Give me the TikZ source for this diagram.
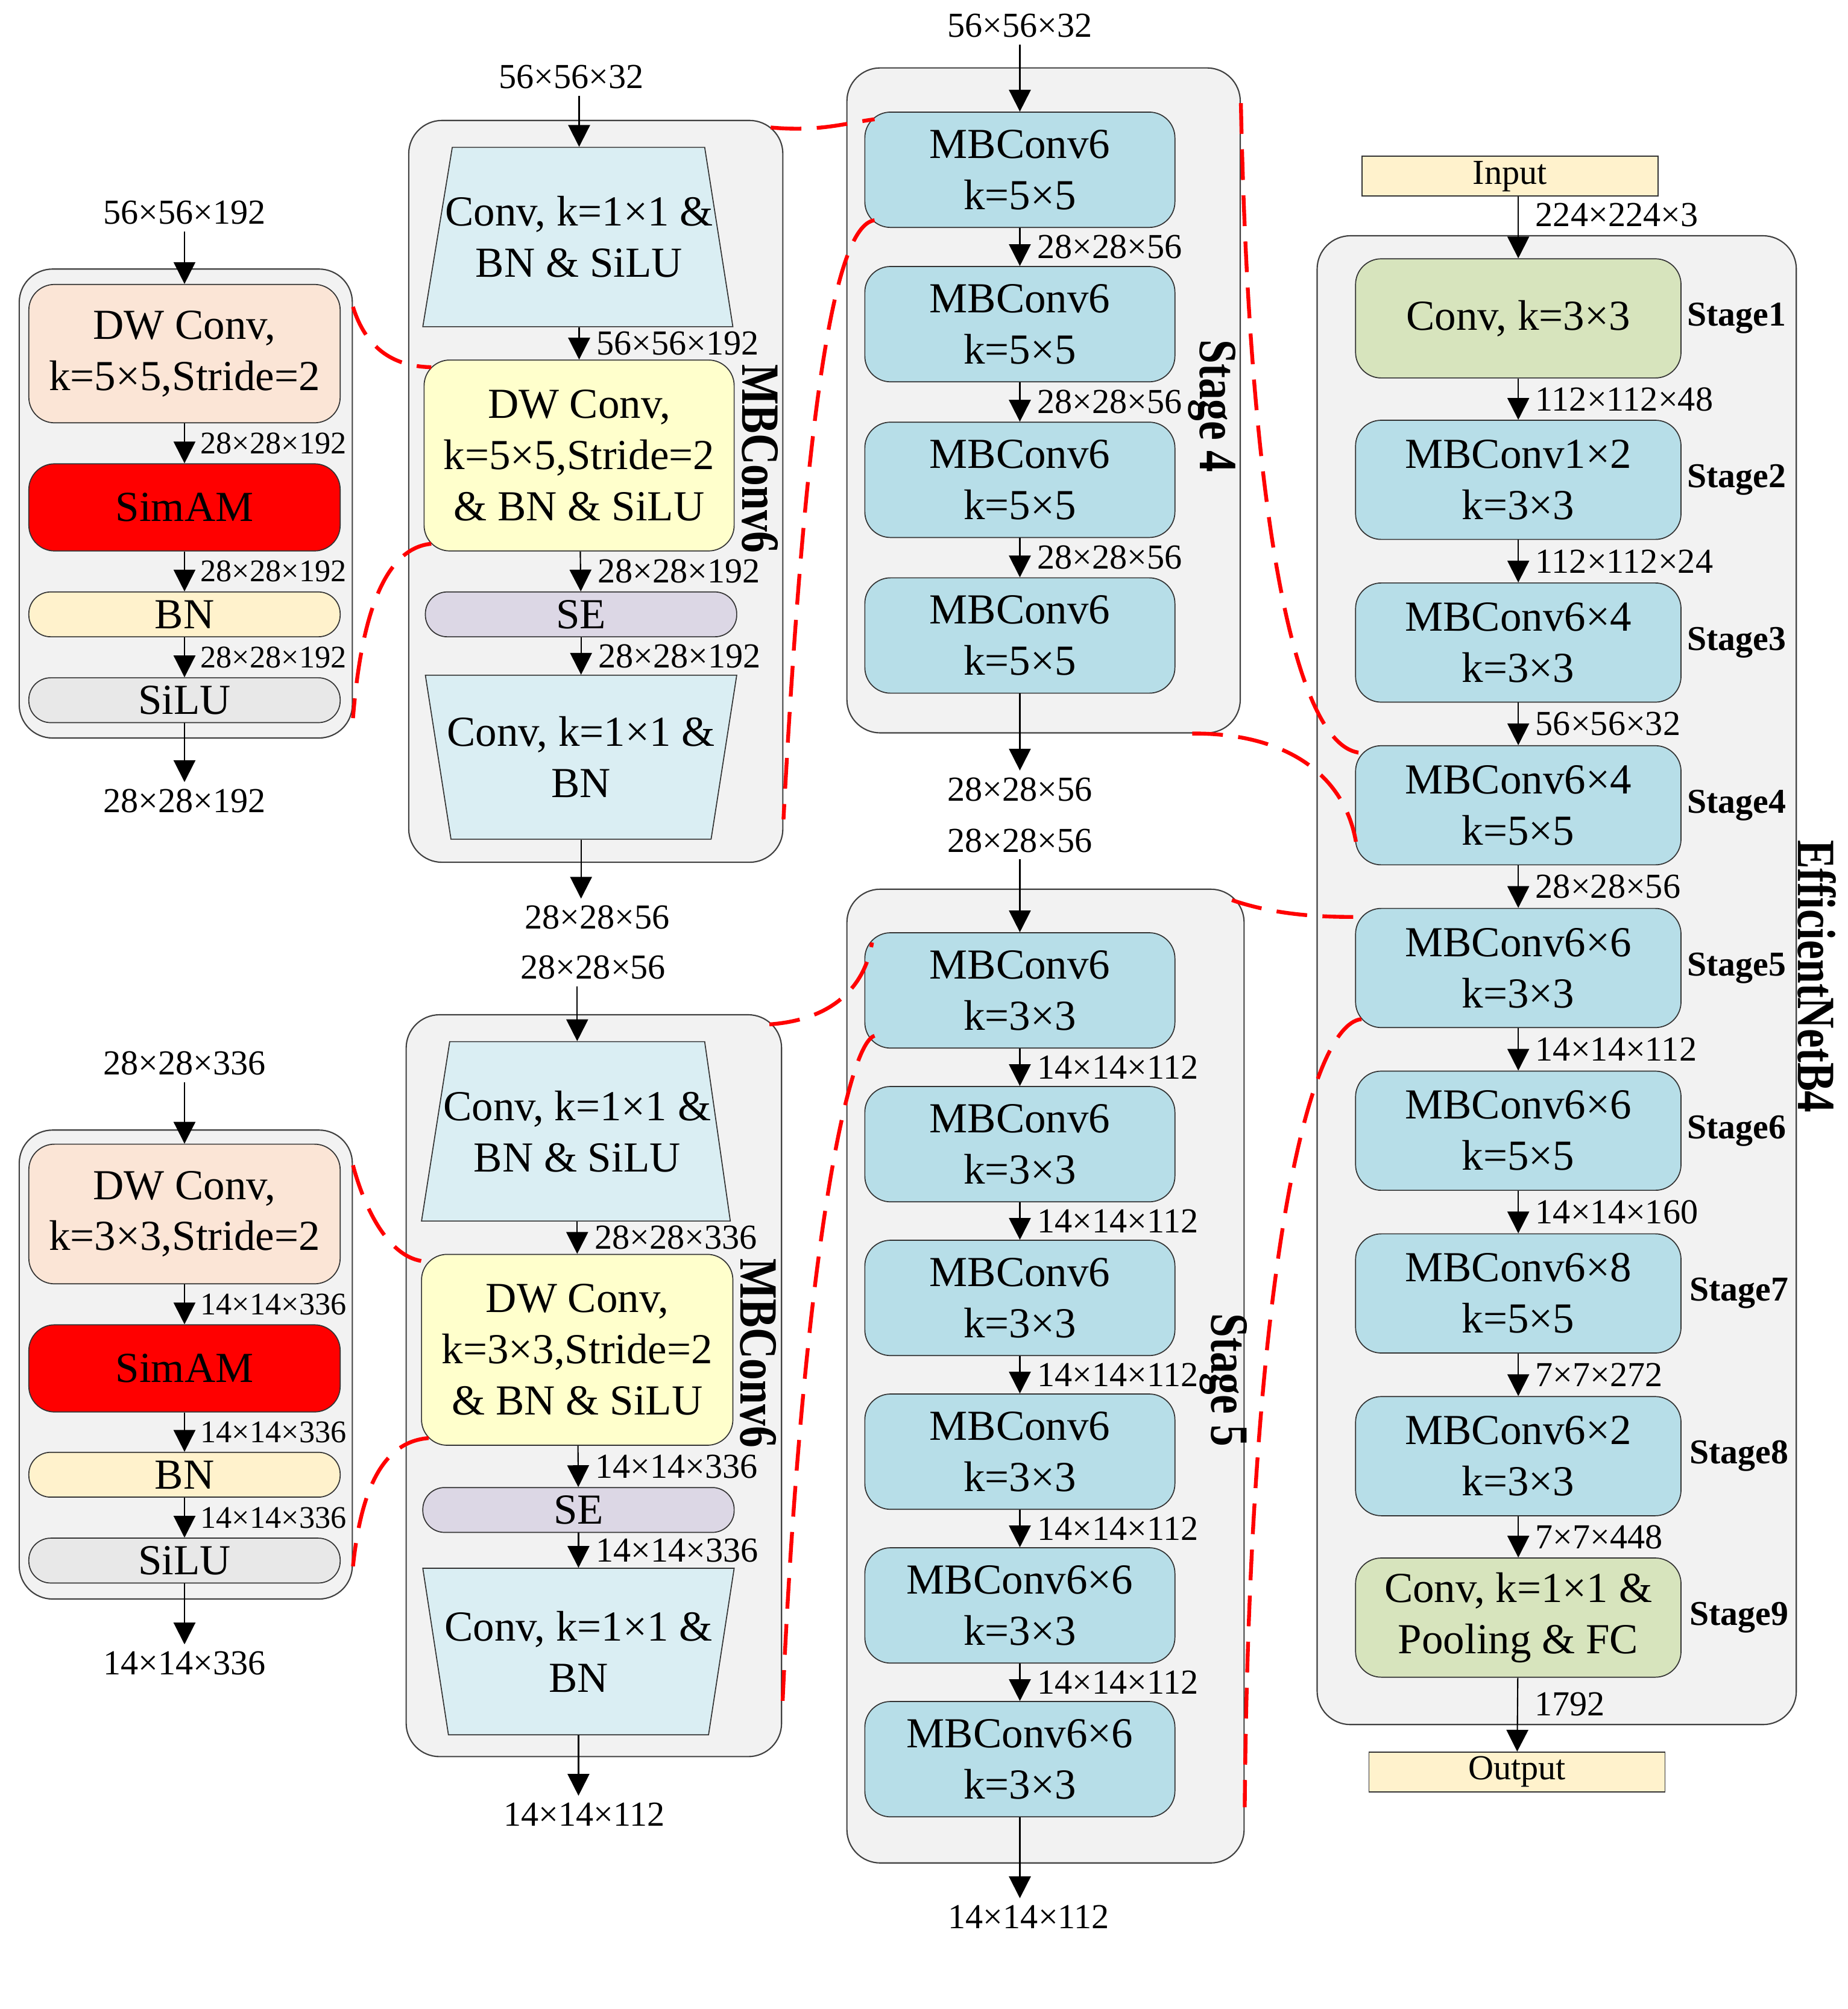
\documentclass[tikz,border=0pt]{standalone}
\usepackage{fontspec}
\setmainfont{Liberation Serif}
\usetikzlibrary{arrows.meta,positioning}

\definecolor{panelgray}{HTML}{F2F2F2}
\definecolor{mbblue}{HTML}{B7DEE8}
\definecolor{trapblue}{HTML}{DAEEF3}
\definecolor{peach}{HTML}{FBE5D6}
\definecolor{lemon}{HTML}{FFFFCC}
\definecolor{cream}{HTML}{FFF2CC}
\definecolor{silugray}{HTML}{E8E8E8}
\definecolor{lilac}{HTML}{DCD7E5}
\definecolor{sage}{HTML}{D7E4BD}

\begin{document}
\begin{tikzpicture}[
        x=0.5pt, y=-0.5pt,
        arr/.style={-{Triangle[length=8.5pt,width=8.5pt]}, line width=0.5pt},
        panel/.style={draw=black!75, fill=panelgray, rounded corners=13pt, line width=0.5pt},
        blk/.style={draw=black!80, rounded corners=10pt, align=center, inner sep=0pt, line width=0.4pt, font=\fontsize{16.7}{20}\selectfont},
        mb/.style={blk, fill=mbblue, minimum width=121pt, minimum height=45pt},
        stg/.style={blk, minimum width=127pt, minimum height=46.5pt},
        pill/.style={blk, rounded corners=8.5pt, minimum width=121.5pt, minimum height=17.5pt},
        trap/.style={draw=black!80, fill=trapblue, line width=0.4pt},
        txt/.style={align=center, inner sep=0pt, minimum width=121pt, font=\fontsize{16.7}{20}\selectfont},
        io/.style={draw=black!80, fill=cream, line width=0.4pt, minimum width=115.5pt, minimum height=15.5pt, inner sep=0pt, font=\fontsize{13.7}{15}\selectfont},
        dim/.style={font=\fontsize{13.7}{15}\selectfont, inner sep=2.5pt},
        dimsm/.style={font=\fontsize{12.3}{14}\selectfont, inner sep=2pt},
        side/.style={anchor=west, xshift=4pt},
        stlab/.style={font=\bfseries\fontsize{13.6}{15}\selectfont, inner sep=1pt},
        vlab/.style={rotate=-90, inner sep=0pt, font=\bfseries\fontsize{21}{24}\selectfont},
        zoomline/.style={red, line width=1.5pt, dash pattern=on 12pt off 6pt}
    ]
    \useasboundingbox (0,0) rectangle (1442,1568);

    \node[panel, minimum width=130pt, minimum height=183pt] (pA) at (145,393) {};
    \node[dim] (inA) at (144,166) {56×56×192};
    \node[blk, fill=peach, minimum width=121.5pt, minimum height=54pt] (a1) at (144,276) {DW Conv,\\k=5×5,Stride=2};
    \node[blk, fill=red, minimum width=121.5pt, minimum height=34pt] (a2) at (144,396) {SimAM};
    \node[pill, fill=cream] (a3) at (144,479.5) {BN};
    \node[pill, fill=silugray] (a4) at (144,546.5) {SiLU};
    \node[dim] (outA) at (144,625) {28×28×192};
    \draw[arr] (inA) -- (a1);
    \draw[arr] (a1) -- node[dimsm, side] (la1) {28×28×192} (a2);
    \draw[arr] (a2) -- node[dimsm, side] (la2) {28×28×192} (a3);
    \draw[arr] (a3) -- node[dimsm, side] (la3) {28×28×192} (a4);
    \draw[arr] (a4) -- (outA);

    \node[panel, minimum width=146pt, minimum height=289.5pt] (pB) at (465,383.5) {};
    \node[dim] (inB) at (446,60) {56×56×32};
    \draw[trap] (353,115) -- (550,115) -- (572,255) -- (330,255) -- cycle;
    \node[txt, minimum height=70pt] (b1) at (452,185) {Conv, k=1×1 \&\\BN \& SiLU};
    \node[blk, fill=lemon, minimum width=121pt, minimum height=74.5pt] (b2) at (452,355.5) {DW Conv,\\k=5×5,Stride=2\\\& BN \& SiLU};
    \node[pill, fill=lilac] (b3) at (453.5,479.5) {SE};
    \draw[trap] (332,527) -- (575,527) -- (555,655) -- (352,655) -- cycle;
    \node[txt, minimum height=64pt] (b4) at (453.5,591) {Conv, k=1×1 \&\\BN};
    \node[dim] (outB) at (466,716) {28×28×56};
    \node[vlab] (tB) at (593,358) {\scalebox{0.8}[1]{MBConv6}};
    \draw[arr] (inB.south -| b1.north) -- (b1);
    \draw[arr] (b1) -- node[dim, side] (lb1) {56×56×192} (b2);
    \draw[arr] (b2) -- node[dim, side] (lb2) {28×28×192} (b3);
    \draw[arr] (b3) -- node[dim, side] (lb3) {28×28×192} (b4);
    \draw[arr] (b4.south) -- (b4.south |- outB.north);

    \node[panel, minimum width=153.5pt, minimum height=259.5pt] (pC) at (814.5,312.5) {};
    \node[dim] (inC) at (796,20) {56×56×32};
    \node[mb] (c1) at (796,132.5) {MBConv6\\k=5×5};
    \node[mb] (c2) at (796,253) {MBConv6\\k=5×5};
    \node[mb] (c3) at (796,374.5) {MBConv6\\k=5×5};
    \node[mb] (c4) at (796,496) {MBConv6\\k=5×5};
    \node[dim] (outC) at (796,616) {28×28×56};
    \node[vlab] (tC) at (946,317) {\scalebox{0.8}[1]{Stage 4}};
    \draw[arr] (inC) -- (c1);
    \draw[arr] (c1) -- node[dim, side] (lc1) {28×28×56} (c2);
    \draw[arr] (c2) -- node[dim, side] (lc2) {28×28×56} (c3);
    \draw[arr] (c3) -- node[dim, side] (lc3) {28×28×56} (c4);
    \draw[arr] (c4) -- (outC);

    \node[panel, minimum width=155pt, minimum height=380pt] (pD) at (816,1074) {};
    \node[dim] (inD) at (796,656) {28×28×56};
    \node[mb] (d1) at (796,773) {MBConv6\\k=3×3};
    \node[mb] (d2) at (796,893) {MBConv6\\k=3×3};
    \node[mb] (d3) at (796,1013) {MBConv6\\k=3×3};
    \node[mb] (d4) at (796,1133) {MBConv6\\k=3×3};
    \node[mb] (d5) at (796,1253) {MBConv6×6\\k=3×3};
    \node[mb] (d6) at (796,1373) {MBConv6×6\\k=3×3};
    \node[dim] (outD) at (803,1496) {14×14×112};
    \node[vlab] (tD) at (955,1077) {\scalebox{0.8}[1]{Stage 5}};
    \draw[arr] (inD) -- (d1);
    \draw[arr] (d1) -- node[dim, side] (ld1) {14×14×112} (d2);
    \draw[arr] (d2) -- node[dim, side] (ld2) {14×14×112} (d3);
    \draw[arr] (d3) -- node[dim, side] (ld3) {14×14×112} (d4);
    \draw[arr] (d4) -- node[dim, side] (ld4) {14×14×112} (d5);
    \draw[arr] (d5) -- node[dim, side] (ld5) {14×14×112} (d6);
    \draw[arr] (d6.south) -- (d6.south |- outD.north);

    \node[panel, minimum width=146.5pt, minimum height=289.5pt] (pE) at (463.5,1081.5) {};
    \node[dim] (inE) at (463,755) {28×28×56};
    \draw[trap] (351,813) -- (550,813) -- (570,953) -- (329,953) -- cycle;
    \node[txt, minimum height=70pt] (e1) at (450.5,883) {Conv, k=1×1 \&\\BN \& SiLU};
    \node[blk, fill=lemon, minimum width=121.5pt, minimum height=74.5pt] (e2) at (450.5,1053.5) {DW Conv,\\k=3×3,Stride=2\\\& BN \& SiLU};
    \node[pill, fill=lilac] (e3) at (451.5,1178.5) {SE};
    \draw[trap] (330,1224) -- (573,1224) -- (553,1354) -- (350,1354) -- cycle;
    \node[txt, minimum height=65pt] (e4) at (451.5,1289) {Conv, k=1×1 \&\\BN};
    \node[dim] (outE) at (456,1416) {14×14×112};
    \node[vlab] (tE) at (592,1056) {\scalebox{0.8}[1]{MBConv6}};
    \draw[arr] (inE.south -| e1.north) -- (e1);
    \draw[arr] (e1) -- node[dim, side] (le1) {28×28×336} (e2);
    \draw[arr] (e2) -- node[dim, side] (le2) {14×14×336} (e3);
    \draw[arr] (e3) -- node[dim, side] (le3) {14×14×336} (e4);
    \draw[arr] (e4.south) -- (e4.south |- outE.north);

    \node[panel, minimum width=130pt, minimum height=183pt] (pF) at (145,1065) {};
    \node[dim] (inF) at (144,830) {28×28×336};
    \node[blk, fill=peach, minimum width=121.5pt, minimum height=54.5pt] (f1) at (144,947.5) {DW Conv,\\k=3×3,Stride=2};
    \node[blk, fill=red, minimum width=121.5pt, minimum height=34pt] (f2) at (144,1068) {SimAM};
    \node[pill, fill=cream] (f3) at (144,1151) {BN};
    \node[pill, fill=silugray] (f4) at (144,1218) {SiLU};
    \node[dim] (outF) at (144,1298) {14×14×336};
    \draw[arr] (inF) -- (f1);
    \draw[arr] (f1) -- node[dimsm, side] (lf1) {14×14×336} (f2);
    \draw[arr] (f2) -- node[dimsm, side] (lf2) {14×14×336} (f3);
    \draw[arr] (f3) -- node[dimsm, side] (lf3) {14×14×336} (f4);
    \draw[arr] (f4) -- (outF);

    \node[panel, minimum width=187pt, minimum height=581pt] (pG) at (1215,765) {};
    \node[io] (inp) at (1178.5,137.5) {Input};
    \node[stg, fill=sage] (g1) at (1185,248.5) {Conv, k=3×3};
    \node[stg, fill=mbblue] (g2) at (1185,374.5) {MBConv1×2\\k=3×3};
    \node[stg, fill=mbblue] (g3) at (1185,501.5) {MBConv6×4\\k=3×3};
    \node[stg, fill=mbblue] (g4) at (1185,628.5) {MBConv6×4\\k=5×5};
    \node[stg, fill=mbblue] (g5) at (1185,755.5) {MBConv6×6\\k=3×3};
    \node[stg, fill=mbblue] (g6) at (1185,882.5) {MBConv6×6\\k=5×5};
    \node[stg, fill=mbblue] (g7) at (1185,1009.5) {MBConv6×8\\k=5×5};
    \node[stg, fill=mbblue] (g8) at (1185,1136.5) {MBConv6×2\\k=3×3};
    \node[stg, fill=sage] (g9) at (1185,1262.5) {Conv, k=1×1 \&\\Pooling \& FC};
    \node[io] (outp) at (1184,1383) {Output};
    \node[stlab, right=1pt of g1] (s1) {Stage1};
    \node[stlab, right=1pt of g2] (s2) {Stage2};
    \node[stlab, right=1pt of g3] (s3) {Stage3};
    \node[stlab, right=1pt of g4] (s4) {Stage4};
    \node[stlab, right=1pt of g5] (s5) {Stage5};
    \node[stlab, right=1pt of g6] (s6) {Stage6};
    \node[stlab, right=2pt of g7] (s7) {Stage7};
    \node[stlab, right=2pt of g8] (s8) {Stage8};
    \node[stlab, right=2pt of g9] (s9) {Stage9};
    \node[vlab] (tG) at (1418,762) {\scalebox{0.8}[1]{EfficientNetB4}};
    \draw[arr] (inp.south -| g1.north) -- node[dim, side, pos=0.3] (lg0) {224×224×3} (g1);
    \draw[arr] (g1) -- node[dim, side] (lg1) {112×112×48} (g2);
    \draw[arr] (g2) -- node[dim, side] (lg2) {112×112×24} (g3);
    \draw[arr] (g3) -- node[dim, side] (lg3) {56×56×32} (g4);
    \draw[arr] (g4) -- node[dim, side] (lg4) {28×28×56} (g5);
    \draw[arr] (g5) -- node[dim, side] (lg5) {14×14×112} (g6);
    \draw[arr] (g6) -- node[dim, side] (lg6) {14×14×160} (g7);
    \draw[arr] (g7) -- node[dim, side] (lg7) {7×7×272} (g8);
    \draw[arr] (g8) -- node[dim, side] (lg8) {7×7×448} (g9);
    \draw[arr] (g9) -- node[dim, side, pos=0.36] (lg9) {1792} (outp);

    \draw[zoomline] ([xshift=-5pt,yshift=-3pt]pB.north east) .. controls (640,103) and (660,96) .. ([xshift=4pt,yshift=-3pt]c1.north west);
    \draw[zoomline] ([xshift=4pt,yshift=3pt]c1.south west) .. controls (650,176) and (628,330) .. ([yshift=17pt]pB.south east);
    \draw[zoomline] ([xshift=-19pt]pC.south east) .. controls (1010,572) and (1055,610) .. ([xshift=1pt,yshift=4pt]g4.south west);
    \draw[zoomline] ([yshift=-14pt]pC.north east) .. controls (975,400) and (1010,585) .. ([xshift=2.5pt,yshift=-3pt]g4.north west);
    \draw[zoomline] ([xshift=-5pt,yshift=-4.5pt]pD.north east) .. controls (995,714) and (1030,716) .. ([xshift=2.5pt,yshift=-3.5pt]g5.north west);
    \draw[zoomline] ([xshift=2.5pt,yshift=3.5pt]g5.south west) .. controls (1020,800) and (975,1000) .. ([yshift=22pt]pD.south east);
    \draw[zoomline] ([xshift=-5pt,yshift=-4pt]pE.north east) .. controls (650,796) and (675,770) .. ([xshift=3pt,yshift=-4pt]d1.north west);
    \draw[zoomline] ([xshift=4pt,yshift=5pt]d1.south west) .. controls (660,815) and (625,1000) .. ([yshift=18pt]pE.south east);
    \draw[zoomline] ([yshift=-15pt]pA.north east) .. controls (285,270) and (305,286) .. ([xshift=3pt,yshift=-3pt]b2.north west);
    \draw[zoomline] ([xshift=3pt,yshift=3pt]b2.south west) .. controls (300,428) and (282,480) .. ([yshift=8pt]pA.south east);
    \draw[zoomline] ([yshift=-14pt]pF.north east) .. controls (285,945) and (305,985) .. ([xshift=3pt,yshift=-3pt]e2.north west);
    \draw[zoomline] ([xshift=3pt,yshift=3pt]e2.south west) .. controls (300,1125) and (282,1160) .. ([yshift=13pt]pF.south east);
\end{tikzpicture}
\end{document}
